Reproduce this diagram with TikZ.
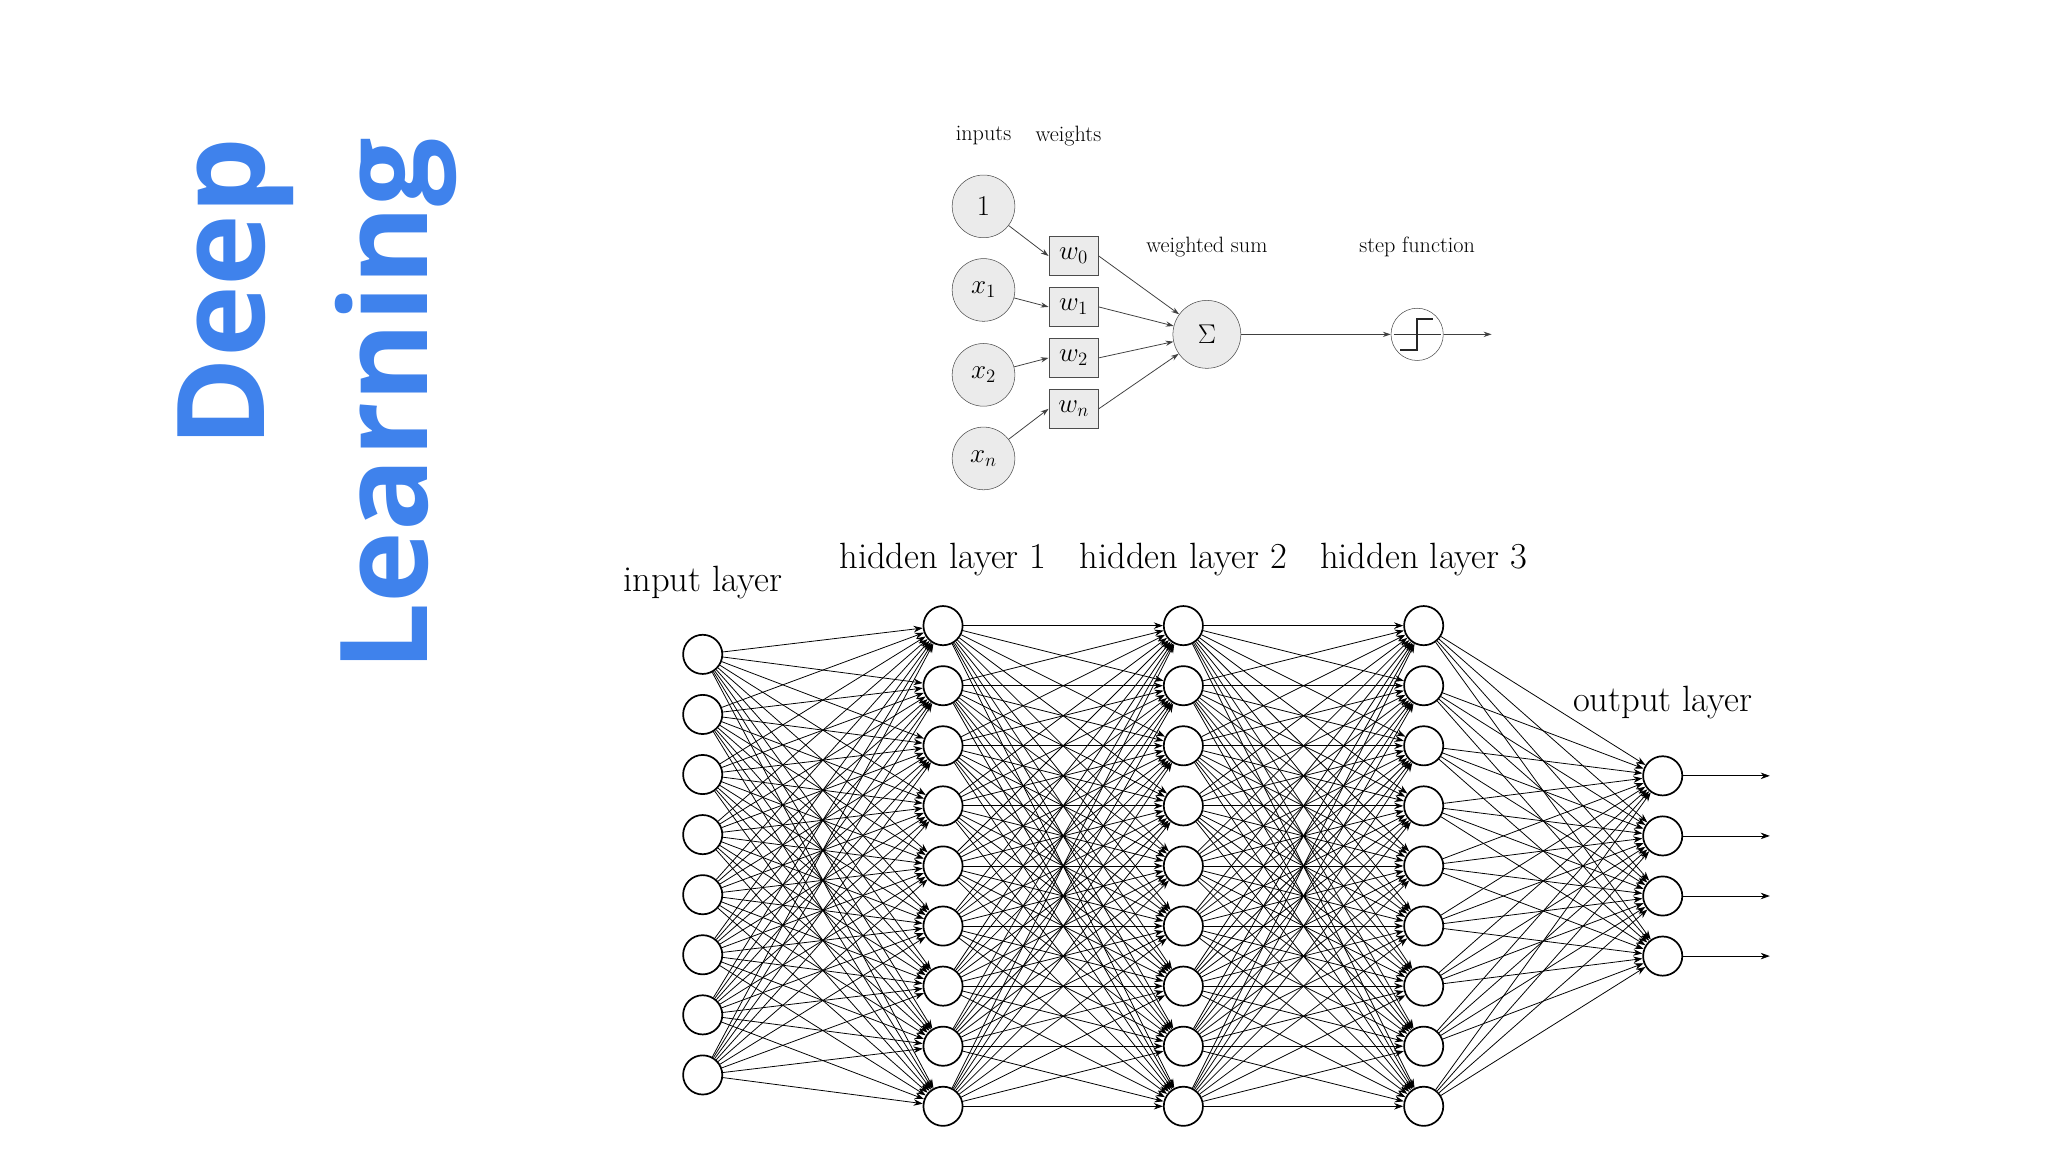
\documentclass[tikz,border=0pt]{standalone}
\usepackage{fontspec}
\newfontfamily\titlefont{Open Sans}[BoldFont={* Bold}]
\usetikzlibrary{arrows.meta}
\definecolor{dlblue}{HTML}{3F82EC}
\definecolor{pgray}{HTML}{EBEBEB}
\begin{document}
\begin{tikzpicture}[x=1pt,y=-1pt,
  neuron/.style={circle,draw,line width=1.3pt,minimum size=30pt,inner sep=0pt,fill=white},
  pnode/.style={circle,draw=black!70,fill=pgray,minimum size=48pt,inner sep=0pt,font=\fontsize{22}{24}\selectfont},
  wbox/.style={draw=black!70,fill=pgray,minimum width=38pt,minimum height=30pt,inner sep=0pt,font=\fontsize{22}{24}\selectfont},
  plabel/.style={font=\fontsize{17}{20}\selectfont},
  nlabel/.style={font=\fontsize{28}{30}\selectfont},
  conn/.style={line width=0.6pt,-{Stealth[length=7pt,width=5pt]}},
  pconn/.style={draw=black!75,line width=0.6pt,-{Stealth[length=6pt,width=4pt]}}]
\useasboundingbox (0,0) rectangle (1568,882);
% title
\node[rotate=90,anchor=south east,text=dlblue,inner sep=0pt,font=\titlefont\bfseries\fontsize{93}{100}\selectfont] (t1) at (225,105) {Deep};
\node[rotate=90,anchor=south east,text=dlblue,inner sep=0pt,font=\titlefont\bfseries\fontsize{93}{100}\selectfont] (t2) at (350,105) {Learning};
% perceptron
\node[plabel] (li) at (753,104) {inputs};
\node[plabel] (lw) at (818,104) {weights};
\node[plabel] (ls) at (924,189) {weighted sum};
\node[plabel] (lf) at (1085,189) {step function};
\node[pnode] (p0) at (753,158) {1};
\node[pnode] (p1) at (753,222) {$x_1$};
\node[pnode] (p2) at (753,287) {$x_2$};
\node[pnode] (p3) at (753,351) {$x_n$};
\node[wbox] (w0) at (822,196) {$w_0$};
\node[wbox] (w1) at (822,235) {$w_1$};
\node[wbox] (w2) at (822,274) {$w_2$};
\node[wbox] (w3) at (822,313) {$w_n$};
\node[pnode,minimum size=52pt] (sig) at (924,256) {$\Sigma$};
\node[pnode,minimum size=40pt,fill=white] (stp) at (1085,256) {};
\draw[black!80,line width=0.6pt] (1067,256) -- (1103,256);
\draw[black!85,line width=1.3pt] (1072,268) -- (1085,268) -- (1085,244) -- (1097,244);
\coordinate (pout) at (1142,256);
\draw[pconn] (p0) -- (w0.west);
\draw[pconn] (p1) -- (w1.west);
\draw[pconn] (p2) -- (w2.west);
\draw[pconn] (p3) -- (w3.west);
\foreach \i in {0,...,3} \draw[pconn] (w\i.east) -- (sig);
\draw[pconn] (sig) -- (stp);
\draw[pconn] (stp) -- (pout);
% network labels
\node[nlabel] (l0) at (538,446) {input layer};
\node[nlabel] (l1) at (722,428) {hidden layer 1};
\node[nlabel] (l2) at (906,428) {hidden layer 2};
\node[nlabel] (l3) at (1090,428) {hidden layer 3};
\node[nlabel] (l4) at (1273,538) {output layer};
% nodes
\foreach \j in {1,...,8} \node[neuron] (a\j) at (538,{501+46*(\j-1)}) {};
\foreach \L/\x in {b/722,c/906,d/1090}
  \foreach \j in {1,...,9} \node[neuron] (\L\j) at (\x,{479+46*(\j-1)}) {};
\foreach \j in {1,...,4} \node[neuron] (e\j) at (1273,{594+46*(\j-1)}) {};
% connections
\foreach \i in {1,...,8} \foreach \j in {1,...,9} \draw[conn] (a\i) -- (b\j);
\foreach \i in {1,...,9} \foreach \j in {1,...,9} {\draw[conn] (b\i) -- (c\j); \draw[conn] (c\i) -- (d\j);}
\foreach \i in {1,...,9} \foreach \j in {1,...,4} \draw[conn] (d\i) -- (e\j);
\foreach \j in {1,...,4} {\coordinate (o\j) at (1355,{594+46*(\j-1)}); \draw[conn] (e\j) -- (o\j);}
\end{tikzpicture}
\end{document}
